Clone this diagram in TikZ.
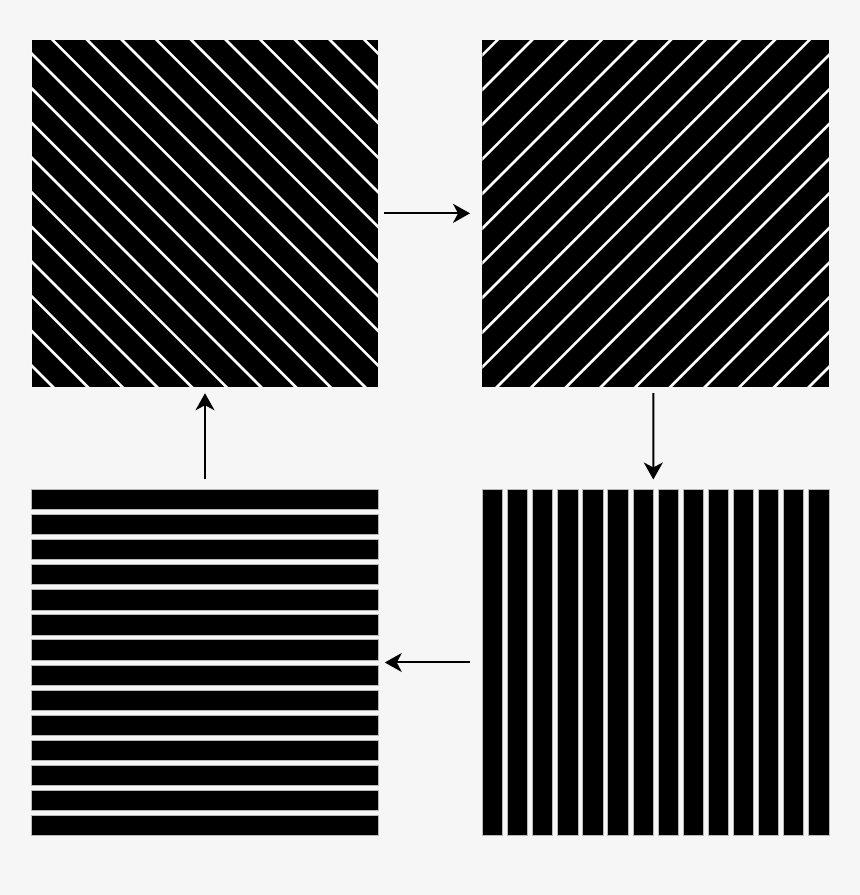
\documentclass[tikz,border=0pt]{standalone}
\usetikzlibrary{arrows.meta}
\definecolor{bgc}{RGB}{246,246,246}
\tikzset{
  sq/.style={minimum size=346.6pt, inner sep=0pt, outer sep=0pt, draw=none},
  sqfill/.style={sq, fill=black},
  hatch/.style={white, line width=2.6pt},
  bar/.style={fill=black, draw=gray!55, line width=0.6pt},
  arr/.style={line width=2pt, -{Stealth[length=17pt,width=19pt,inset=5pt]}}
}
\begin{document}
\begin{tikzpicture}[x=1pt,y=1pt]
\fill[bgc] (0,0) rectangle (860,895);
\useasboundingbox (0,0) rectangle (860,895);

\node[sqfill] (tl) at (205,681.65) {};
\node[sqfill] (tr) at (655.65,681.65) {};
\node[sq] (bl) at (204.5,232.5) {};
\node[sq] (br) at (655.5,232.5) {};

% top-left: \ hatching
\begin{scope}
  \clip (tl.south west) rectangle (tl.north east);
  \foreach \k in {-11,...,11}{
    \pgfmathsetmacro\hc{21+34.66*\k}
    \draw[hatch, shift={(tl.north west)}] (\hc-400,400) -- (\hc+400,-400);
  }
\end{scope}

% top-right: / hatching
\begin{scope}
  \clip (tr.south west) rectangle (tr.north east);
  \foreach \k in {-1,...,21}{
    \pgfmathsetmacro\hc{15+34.66*\k}
    \draw[hatch, shift={(tr.north west)}] (\hc-400,-400) -- (\hc+400,400);
  }
\end{scope}

% bottom-right: vertical bars
\foreach \k in {0,...,13}{
  \fill[bar, shift={(br.south west)}] (25.1*\k,0) rectangle ++(20.3,346.6);
}

% bottom-left: horizontal bars
\foreach \k in {0,...,13}{
  \fill[bar, shift={(bl.north west)}] (0,-25.1*\k) rectangle ++(346.6,-20.3);
}

% arrows
\draw[arr] ([xshift=5.7pt]tl.east) -- ([xshift=-12.3pt]tr.west);
\draw[arr] ([xshift=-2.3pt,yshift=-6.6pt]tr.south) -- ([xshift=-2.2pt,yshift=9.7pt]br.north);
\draw[arr] ([xshift=-12pt]br.west) -- ([xshift=7pt]bl.east);
\draw[arr] ([xshift=0.5pt,yshift=9.7pt]bl.north) -- ([yshift=-6.6pt]tl.south);
\end{tikzpicture}
\end{document}
